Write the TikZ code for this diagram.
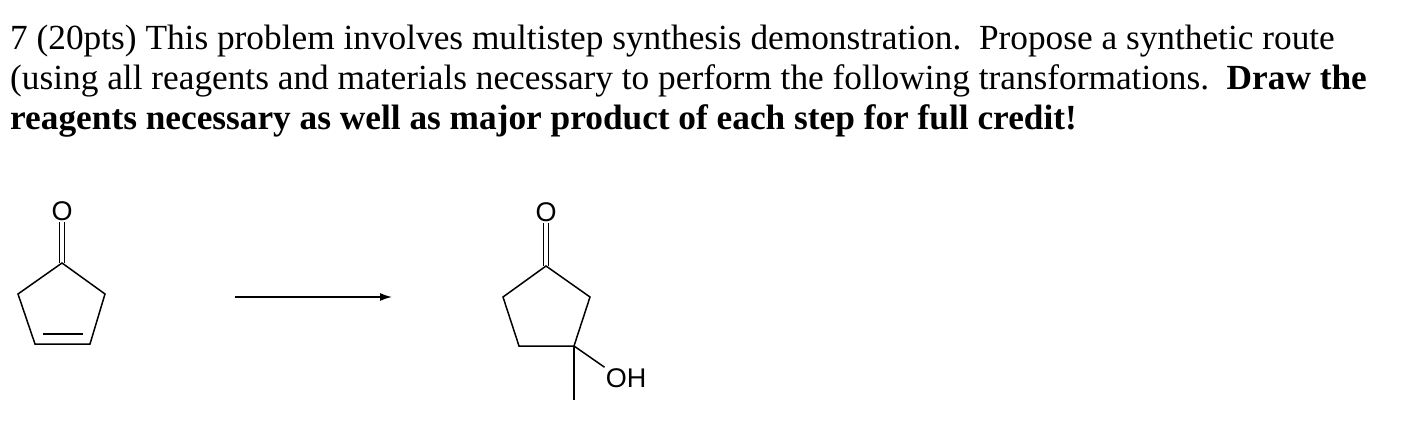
\documentclass[tikz,border=0pt]{standalone}
\usepackage{fontspec}
\usetikzlibrary{arrows.meta}
\setmainfont{Liberation Serif}
\newfontfamily\molfont{Liberation Sans}
\begin{document}
\begin{tikzpicture}[x=1pt,y=-1pt,bond/.style={line width=1.5pt},
  txt/.style={anchor=base west,inner sep=0pt,font=\fontsize{35.3}{40}\selectfont},
  atom/.style={inner sep=1pt,font=\molfont\fontsize{27}{30}\selectfont}]
\useasboundingbox (0,0) rectangle (1411,422);
\node[txt] (l1) at (10,50) {7 (20pts) This problem involves multistep synthesis demonstration.\ \ Propose a synthetic route};
\node[txt] (l2) at (10,90) {(using all reagents and materials necessary to perform the following transformations.\ \ \textbf{Draw the}};
\node[txt] (l3) at (10,130) {\textbf{reagents necessary as well as major product of each step for full credit!}};
% molecule 1
\node[atom] (o1) at (62,211) {O};
\coordinate (a1) at (62,263);
\coordinate (a2) at (18,294);
\coordinate (a3) at (105,294);
\coordinate (a4) at (35,344);
\coordinate (a5) at (90,344);
\draw[bond] ([xshift=-2.5pt]o1.south) -- ([xshift=-2.5pt]a1);
\draw[bond] ([xshift=2.5pt]o1.south) -- ([xshift=2.5pt]a1);
\draw[bond,line join=miter] (a1) -- (a2) -- (a4) -- (a5) -- (a3) -- cycle;
\draw[bond] (43,334) -- (83,334);
% arrow
\coordinate (s) at (235,297);
\coordinate (e) at (392,297);
\draw[bond,-{Latex[length=12pt,width=8pt]}] (s) -- (e);
% molecule 2
\node[atom] (o2) at (546,212) {O};
\coordinate (b1) at (546,266);
\coordinate (b2) at (503,297);
\coordinate (b3) at (590,297);
\coordinate (b4) at (519,346);
\coordinate (b5) at (574,346);
\coordinate (me) at (574,400);
\node[atom] (oh) at (626,378) {OH};
\draw[bond] ([xshift=-2.5pt]o2.south) -- ([xshift=-2.5pt]b1);
\draw[bond] ([xshift=2.5pt]o2.south) -- ([xshift=2.5pt]b1);
\draw[bond,line join=miter] (b1) -- (b2) -- (b4) -- (b5) -- (b3) -- cycle;
\draw[bond] (b5) -- (me);
\draw[bond] (b5) -- (oh.north west);
\end{tikzpicture}
\end{document}
